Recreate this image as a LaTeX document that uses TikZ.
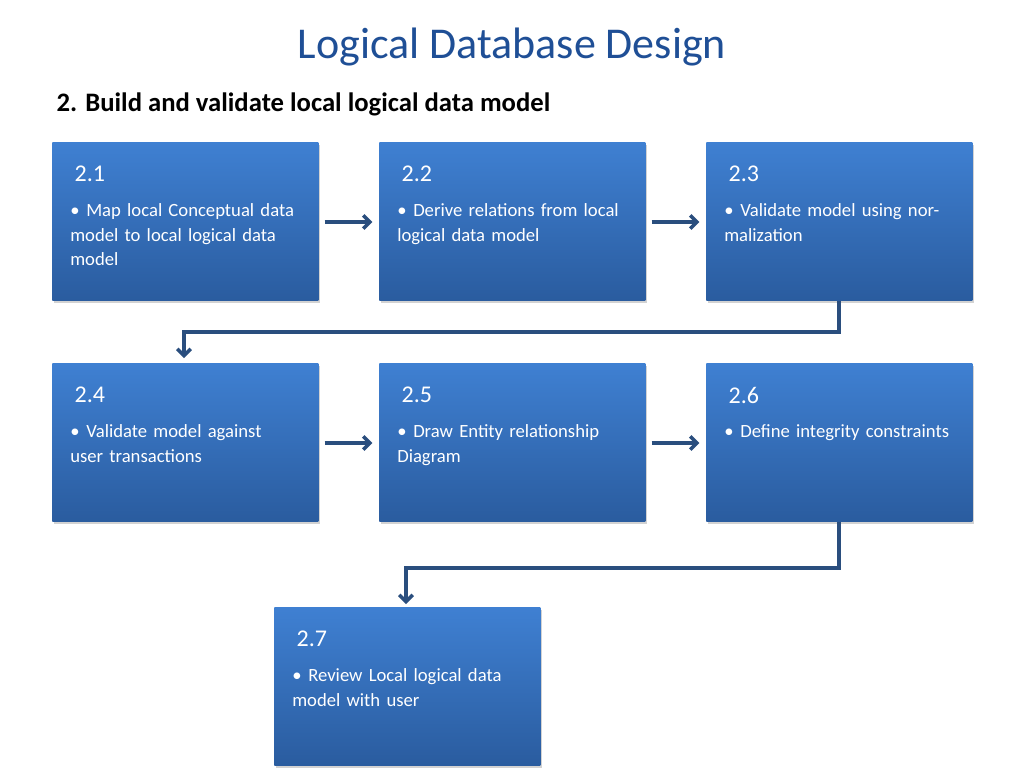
\documentclass[tikz,border=0pt]{standalone}
\usepackage{fontspec}
\setmainfont{Carlito}
\usetikzlibrary{arrows.meta,shadows}
\definecolor{titleblue}{HTML}{1F4F96}
\definecolor{boxtop}{HTML}{3F80D2}
\definecolor{boxbot}{HTML}{2A5C9F}
\definecolor{arr}{HTML}{2A4E7E}
\begin{document}
\begin{tikzpicture}[x=0.75pt,y=-0.75pt,
  box/.style={draw=none,minimum width=199.5pt,minimum height=118.5pt,anchor=north west,
    top color=boxtop,bottom color=boxbot,drop shadow={shadow xshift=1pt,shadow yshift=-2pt,opacity=0.35}},
  num/.style={anchor=west,text=white,font=\fontsize{18}{20}\selectfont},
  txt/.style={anchor=north west,text=white,font=\fontsize{14}{18.5}\selectfont,text width=170pt,align=left,inner sep=0pt},
  con/.style={draw=arr,line width=2.6pt,-{Straight Barb[length=5pt,width=10pt]}}]
\useasboundingbox (0,0) rectangle (1024,768);
\fill[white] (0,0) rectangle (1024,768);
\node[text=titleblue,font=\fontsize{33}{36}\selectfont] (title) at (512,47) {Logical Database Design};
\node[anchor=west,font=\bfseries\fontsize{20}{24}\selectfont] (sub) at (52,104) {2. Build and validate local logical data model};
\newcommand{\stepbox}[5]{%
  \node[box] (#1) at (#2,#3) {};
  \node[num] (#1n) at ([xshift=13.5pt,yshift=-24pt]#1.north west) {#4};
  \node[txt] (#1t) at ([xshift=13.5pt,yshift=-46pt]#1.north west) {\hangindent=12pt\hangafter=1 \makebox[12pt][l]{•}#5};
}
\stepbox{b1}{52}{142}{2.1}{Map local Conceptual data model to local logical data model}
\stepbox{b2}{379}{142}{2.2}{Derive relations from local logical data model}
\stepbox{b3}{706}{142}{2.3}{Validate model using normalization}
\stepbox{b4}{52}{363}{2.4}{Validate model against user transactions}
\stepbox{b5}{379}{363}{2.5}{Draw Entity relationship Diagram}
\stepbox{b6}{706}{363}{2.6}{Define integrity constraints}
\stepbox{b7}{274}{607}{2.7}{Review Local logical data model with user}
\draw[con] ([yshift=-60pt]b1.north east) ++(6,0) -- ([xshift=-5pt,yshift=-60pt]b2.north west);
\draw[con] ([yshift=-60pt]b2.north east) ++(6,0) -- ([xshift=-5pt,yshift=-60pt]b3.north west);
\draw[con] ([yshift=-60pt]b4.north east) ++(6,0) -- ([xshift=-5pt,yshift=-60pt]b5.north west);
\draw[con] ([yshift=-60pt]b5.north east) ++(6,0) -- ([xshift=-5pt,yshift=-60pt]b6.north west);
\coordinate (c1) at (839,332);
\coordinate (c2) at (839,568);
\draw[con] (b3.south -| c1) -- (c1) -- (184,332) -- (184,358);
\draw[con] (b6.south -| c2) -- (c2) -- (406,568) -- (406,604);
\end{tikzpicture}
\end{document}
